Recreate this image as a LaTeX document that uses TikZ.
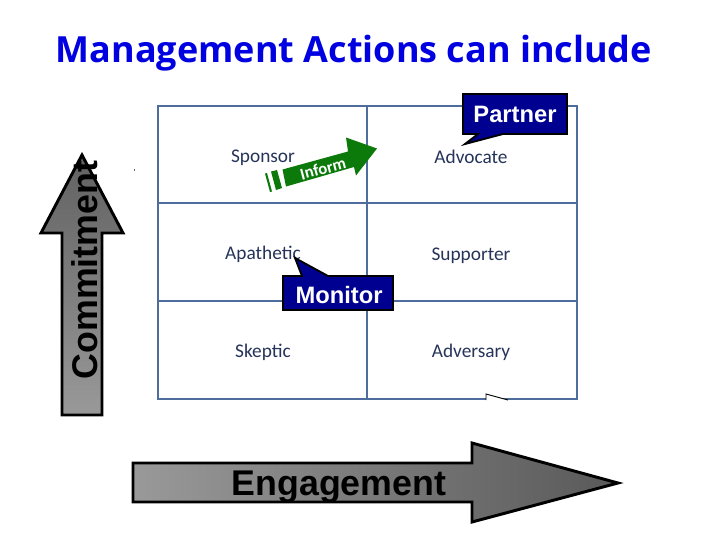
\documentclass[tikz,border=0pt]{standalone}
\usepackage{fontspec}
\setmainfont{Liberation Sans}
\newfontfamily\titlefont{Open Sans}
\newfontfamily\cellfont{Carlito}
\definecolor{titleblue}{HTML}{0000E0}
\definecolor{gridblue}{HTML}{4F6D9C}
\definecolor{cellnavy}{HTML}{26345A}
\definecolor{calloutblue}{HTML}{000090}
\definecolor{informgreen}{HTML}{0B7A0B}
\tikzset{
  gridline/.style={draw=gridblue,line width=1.5pt},
  gridheavy/.style={draw=gridblue,line width=2.2pt},
  celltext/.style={text=cellnavy,font=\cellfont\fontsize{14.5}{16}\selectfont,inner sep=0pt},
  bigarrow/.style={draw=black,line width=2.2pt,miter limit=10},
  bigtext/.style={text=black,font=\bfseries\fontsize{26.8}{30}\selectfont,inner sep=0pt},
  calloutshape/.style={fill=calloutblue,draw=black,line width=1.4pt},
  callouttext/.style={text=white,font=\bfseries\fontsize{17.8}{20}\selectfont,inner sep=0pt},
}
\begin{document}
\begin{tikzpicture}[x=0.75pt,y=-0.75pt]
\useasboundingbox (0,0) rectangle (720,540);
\fill[white] (0,0) rectangle (720,540);
\node[text=titleblue,font=\titlefont\bfseries\fontsize{27}{30}\selectfont,inner sep=0pt] (title) at (354,53.5) {Management Actions can include};
% grid
\draw[gridline] (158,106) rectangle (577,399);
\draw[gridline] (367,106) -- (367,399);
\draw[gridheavy] (158,203) -- (577,203);
\draw[gridheavy] (158,301) -- (577,301);
\node[celltext] (sponsor) at (263,157.5) {Sponsor};
\node[celltext] (advocate) at (471,156.5) {Advocate};
\node[celltext] (apathetic) at (263,254.5) {Apathetic};
\node[celltext] (supporter) at (471,255.5) {Supporter};
\node[celltext] (skeptic) at (263,352.5) {Skeptic};
\node[celltext] (adversary) at (471,352.5) {Adversary};
% small marks
\fill[black!60] (133.6,169) rectangle (134.4,171);
\fill[white] (486,394) -- (508,400) -- (486,400) -- cycle;
\draw[black,line width=0.7pt] (486,400) -- (486,394) -- (508,400);
% inform arrow
\fill[informgreen] (286,186.5) -- (282.5,169.5) -- (348,151.5) -- (346,137.5) -- (377,148.5) -- (356,175.5) -- (354,167) -- cycle;
\fill[informgreen] (271,171.5) -- (277,170) -- (282,188) -- (276,190) -- cycle;
\fill[informgreen] (265,173.5) -- (267,173) -- (272,191.5) -- (270,192) -- cycle;
\node[text=white,font=\cellfont\bfseries\fontsize{12.5}{14}\selectfont,inner sep=0pt,rotate=15] (inform) at (323,168.5) {Inform};
% commitment
\path[bigarrow,bottom color=black!40,top color=black!62] (62,415) -- (62,233) -- (41,233) -- (82,155) -- (123,233) -- (102,233) -- (102,415) -- cycle;
\node[bigtext,rotate=90] (commitment) at (85,270) {Commitment};
% engagement
\path[bigarrow,left color=black!40,right color=black!65] (133,463) -- (472,463) -- (472,443) -- (618,483) -- (472,522) -- (472,502) -- (133,502) -- cycle;
\node[bigtext] (engagement) at (339,487) {Engagement};
% callouts
\path[calloutshape] (463,94) -- (567,94) -- (567,134) -- (503,134) -- (465,144) -- (478,134) -- (463,134) -- cycle;
\node[callouttext] (partner) at (515,114) {Partner};
\path[calloutshape] (283,276) -- (302,276) -- (295,258) -- (328,276) -- (393,276) -- (393,310) -- (283,310) -- cycle;
\node[callouttext] (monitor) at (339,295) {Monitor};
\end{tikzpicture}
\end{document}
